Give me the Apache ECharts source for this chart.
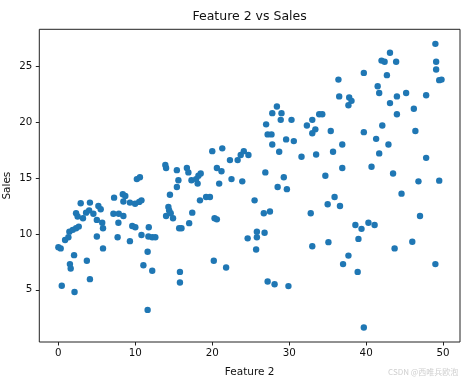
<!DOCTYPE html>
<html>
<head>
    <meta charset="utf-8"/>
    <title>Feature 2 vs Sales</title>
    <script src="https://cdn.jsdelivr.net/npm/echarts@6/dist/echarts.min.js"></script>
    <style>
        body { margin: 0; background: #fff; }
        #chart { width: 474px; height: 381px; }
    </style>
</head>
<body>
<div id="chart"></div>
<script>
    // Feature 2 values (x) and Sales (y)
    var feature2 = [
        0, 0.3, 0.44, 0.87, 1.3, 1.43, 1.87, 2.3, 2.65, 2.04, 1.5, 1.6, 2.1,
        2.9, 4.1, 5.2, 5.5, 2.3, 2.5, 3.2, 3.6, 4.0, 4.55, 5.0, 5.7, 5.8, 5.0, 5.8, 3.7, 4.1,
        7.24, 8.37, 8.7, 8.45, 9.3, 9.97, 10.5, 10.8, 7.15, 7.85, 8.45, 7.8, 7.7, 9.3, 9.6, 10.0,
        10.8, 11.75, 11.7, 12.2, 12.6, 10.2, 10.6, 11.6, 11.05, 12.2, 11.6,
        13.9, 14.0, 15.4, 15.6, 15.4, 14.5, 14.3, 14.4, 14.0, 14.9, 14.6, 15.7, 15.8, 15.8,
        16.7, 16.9, 17.3, 17.9, 18.2, 18.5, 18.1, 18.4, 19.2, 19.7, 17.4, 17.0, 16.0, 20.3, 20.6,
        20.0, 21.3, 20.6, 21.2, 20.9, 22.5, 23.9, 22.3, 23.3, 23.7, 24.1, 24.7, 25.5, 26.7, 27.5,
        24.6, 25.8, 26.8, 25.8, 25.7, 26.9, 28.4, 27.8, 29.0, 28.9, 30.3, 27.0, 27.2, 27.7, 27.8,
        29.6, 30.6, 28.7, 29.3, 28.5, 29.7, 31.6, 33.5, 32.3, 33.0, 33.0, 33.4, 33.9, 32.8, 33.0,
        20.2, 21.8, 27.2, 28.1, 29.9,
        49.0, 49.1, 49.1, 49.5, 49.8, 43.1, 42.0, 42.4, 43.9, 39.7, 42.7, 36.4, 41.5, 41.7, 36.5,
        37.8, 38.1, 37.7, 44.0, 45.2, 47.8, 43.1, 44.0, 46.2, 34.3, 35.4, 39.7, 42.1, 41.3, 46.4,
        36.9, 35.7, 42.9, 41.7, 36.9, 34.7, 40.7, 43.5, 47.8, 46.8, 49.5,
        44.6, 35.0, 35.9, 36.6, 38.6, 39.4, 40.3, 41.1, 39.0, 35.1, 37.7, 37.0, 38.9, 39.7, 43.7,
        46.0, 47.0, 49.0
    ];
    var sales = [
        8.8, 8.7, 5.36, 9.46, 9.7, 10.2, 10.36, 10.5, 10.65, 8.1, 7.3, 6.9, 4.8,
        12.74, 12.8, 12.5, 12.2, 11.85, 11.55, 11.4, 11.9, 12.1, 11.8, 11.25, 11.0, 10.5, 9.76, 8.7, 7.6, 5.95,
        13.24, 13.54, 13.4, 12.9, 12.8, 12.7, 12.86, 13.0, 11.8, 11.8, 11.6, 11.0, 9.7, 9.35, 10.7, 10.6,
        9.9, 10.6, 9.76, 9.7, 9.7, 14.9, 15.06, 8.4, 7.2, 6.7, 3.2,
        16.16, 15.9, 15.7, 14.8, 14.2, 13.5, 12.4, 12.1, 11.6, 11.4, 11.85, 10.5, 6.6, 5.65,
        15.9, 15.5, 14.8, 14.9, 15.2, 15.4, 14.5, 13.0, 13.3, 13.3, 11.9, 10.96, 10.5, 11.4, 11.3,
        17.4, 17.65, 15.9, 15.6, 14.5, 14.9, 14.7, 16.6, 16.6, 17.05, 17.4, 17.05, 13.0, 11.85, 12.0,
        9.6, 10.2, 10.1, 9.7, 8.6, 15.5, 21.4, 20.8, 20.8, 20.2, 20.2, 19.8, 18.9, 18.9, 18.0,
        18.45, 18.3, 17.35, 15.06, 14.2, 14.0, 16.9, 17.1, 19.7, 20.2, 19.0, 19.35, 20.7, 11.85, 8.9,
        7.6, 7.0, 5.74, 5.5, 5.33,
        27.0, 25.4, 24.7, 23.75, 23.8, 26.2, 25.5, 25.4, 25.4, 24.4, 24.2, 23.8, 23.2, 22.6, 22.3,
        22.2, 21.9, 21.5, 22.3, 22.6, 22.4, 21.7, 20.7, 21.2, 20.7, 19.2, 19.1, 19.7, 18.5, 19.2,
        18.0, 17.35, 18.0, 17.2, 15.9, 15.2, 16.0, 15.4, 16.8, 14.7, 14.76,
        13.6, 12.65, 13.3, 12.5, 10.8, 10.45, 11.0, 10.8, 9.55, 9.26, 8.06, 7.3, 6.6, 1.63, 8.7,
        9.3, 11.6, 7.3
    ];
    var xTicks = [0, 10, 20, 30, 40, 50];
    var yTicks = [5, 10, 15, 20, 25];

    var points = [];
    for (var i = 0; i < feature2.length; i++) {
        points.push([feature2[i], sales[i]]);
    }

    var font = 'DejaVu Sans';
    var myChart = echarts.init(document.getElementById('chart'));
    var option = {
        animation: false,
        backgroundColor: '#fff',
        grid: {
            left: 39.3,
            right: 14,
            top: 29.3,
            bottom: 39,
            outerBoundsMode: 'none',
            containLabel: false,
            show: true,
            borderColor: '#222',
            borderWidth: 1
        },
        graphic: [{
            type: 'text',
            x: 249.6,
            y: 17,
            style: {
                text: 'Feature 2 vs Sales',
                fontFamily: font,
                fontSize: 12.5,
                fill: '#111',
                textAlign: 'center',
                textVerticalAlign: 'middle'
            }
        }, {
            type: 'text',
            left: 388,
            top: 368,
            style: {
                text: 'CSDN @西唯兵欧泡',
                fontFamily: 'Noto Sans CJK SC',
                fontSize: 8,
                fill: '#cfcfcf'
            }
        }],
        xAxis: {
            type: 'value',
            min: -2.48,
            max: 52.2,
            name: 'Feature 2',
            nameLocation: 'middle',
            nameGap: 25,
            nameMoveOverlap: false,
            nameTextStyle: { fontFamily: font, fontSize: 10.5, color: '#111' },
            splitLine: { show: false },
            axisLine: { show: false, onZero: false },
            axisTick: {
                show: true,
                length: 3.5,
                lineStyle: { color: '#222' },
                customValues: xTicks
            },
            axisLabel: {
                fontFamily: font,
                fontSize: 10.3,
                color: '#111',
                margin: 6,
                customValues: xTicks
            }
        },
        yAxis: {
            type: 'value',
            min: 0.33,
            max: 28.3,
            name: 'Sales',
            nameLocation: 'middle',
            nameGap: 27,
            nameMoveOverlap: false,
            nameTextStyle: { fontFamily: font, fontSize: 10.5, color: '#111' },
            splitLine: { show: false },
            axisLine: { show: false, onZero: false },
            axisTick: {
                show: true,
                length: 3.5,
                lineStyle: { color: '#222' },
                customValues: yTicks
            },
            axisLabel: {
                fontFamily: font,
                fontSize: 10.3,
                color: '#111',
                margin: 7,
                customValues: yTicks
            }
        },
        series: [{
            type: 'scatter',
            symbolSize: 6.4,
            itemStyle: { color: '#1f77b4', opacity: 1 },
            data: points
        }]
    };
    myChart.setOption(option);
</script>
</body>
</html>
